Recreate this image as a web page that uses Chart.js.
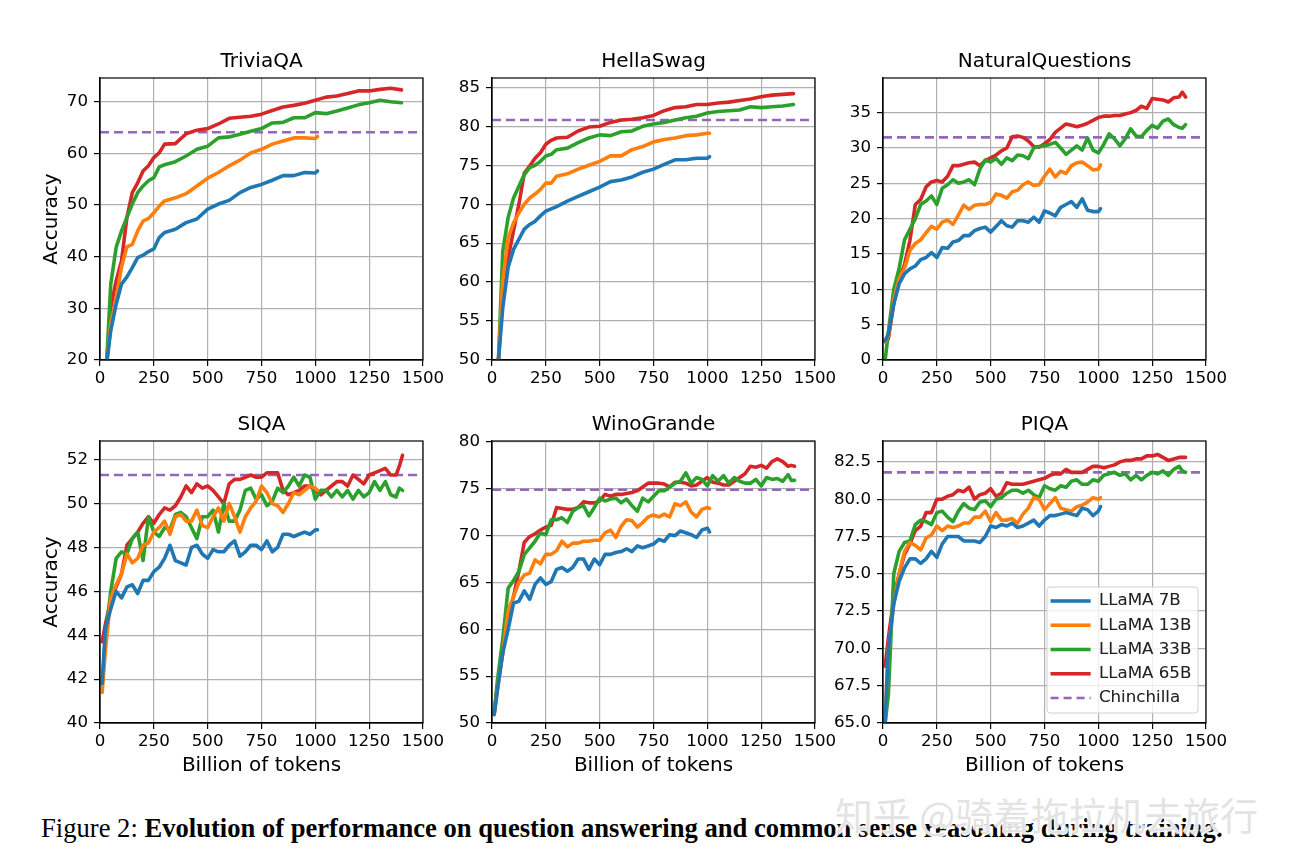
<!DOCTYPE html>
<html><head><meta charset="utf-8">
<script src="https://cdn.jsdelivr.net/npm/chart.js@4/dist/chart.umd.min.js"></script>
<style>
html,body{margin:0;padding:0;background:#fff;width:1289px;height:866px;overflow:hidden;position:relative}
canvas{position:absolute}
#caption{position:absolute;left:41px;top:813px;font-family:"Liberation Serif",serif;font-size:26.6px;line-height:30px;white-space:nowrap;color:#000}
#mark{position:absolute;left:835px;top:790px;font-family:"Noto Sans CJK SC",sans-serif;font-size:37.9px;line-height:48px;white-space:nowrap;color:rgba(200,200,200,.5);text-shadow:0 0 2px #fff,1px 1px 1px #fff,-1px -1px 1px #fff}
</style></head><body>
<div id="caption">Figure 2: <b>Evolution of performance on question answering and common sense reasoning during training.</b></div>
<div id="mark">知乎 @骑着拖拉机去旅行</div>
<script>
// ---- x grids (billion of tokens) ----
const smoothShort=[30,50,75,100,125,150,175,200,225,250,275,300,350,400,450,500,550,600,650,700,750,800,850,900,950,1000,1010];
const smoothLong=[30,50,75,100,125,150,175,200,225,250,275,300,350,400,450,500,550,600,650,700,750,800,850,900,950,1000,1050,1100,1150,1200,1250,1300,1350,1400];
const noisyShort=[10,25,50,75,100,125,150,175,200,225,250,275,300,325,350,375,400,425,450,475,500,525,550,575,600,625,650,675,700,725,750,775,800,825,850,875,900,925,950,975,1000,1010];
const noisyLong=[10,25,50,75,100,125,150,175,200,225,250,275,300,325,350,375,400,425,450,475,500,525,550,575,600,625,650,675,700,725,750,775,800,825,850,875,900,925,950,975,1000,1025,1050,1075,1100,1125,1150,1175,1200,1225,1250,1275,1300,1325,1350,1375,1390,1405];
const chinchillaX=[0,1480];

// ---- TriviaQA ----
const triviaQA7=[19,25.7,30.8,34.7,36.1,37.9,39.8,40.3,41,41.5,43.7,44.7,45.3,46.6,47.3,49.2,50.2,50.9,52.4,53.4,54,54.8,55.7,55.7,56.3,56.2,56.6];
const triviaQA13=[19,27,32,38,41.9,42.4,45,46.9,47.4,48.5,49.8,50.8,51.4,52.2,53.7,55.2,56.3,57.6,58.7,60.1,60.8,61.8,62.4,63,63,62.9,63.3];
const triviaQA33=[19,34.7,41.8,45,47.6,50.2,52.4,53.7,54.7,55.3,57.4,57.8,58.4,59.5,60.8,61.4,63,63.2,63.7,64.3,64.8,65.9,66,66.9,66.9,67.9,67.7,68.2,68.8,69.4,69.8,70.3,70,69.8];
const triviaQA65=[19,30.2,35.3,39.2,47.6,52.4,54.3,56.6,57.6,59.2,60.1,61.8,61.9,63.8,64.5,64.8,65.7,66.8,67,67.2,67.6,68.3,69,69.3,69.7,70.3,70.9,71.1,71.6,72.1,72.1,72.4,72.6,72.3];
const triviaQAChin=64.1;
// ---- HellaSwag ----
const hella7=[50,56.7,61.9,64.2,65.5,66.8,67.4,67.8,68.5,69.1,69.4,69.7,70.4,71,71.6,72.2,72.9,73.1,73.5,74.1,74.5,75.1,75.7,75.7,75.9,75.9,76.1];
const hella13=[50,60.2,65.7,67.6,68.9,70,70.8,71.3,71.9,72.7,72.7,73.6,73.9,74.5,75,75.5,76.2,76.2,77,77.4,78,78.3,78.5,78.8,78.9,79.1,79.1];
const hella33=[50,64,68.3,70.8,72.3,73.8,74.7,75,75.5,76.2,76.4,77,77.2,77.9,78.5,78.9,78.8,79.3,79.4,80,80.3,80.5,80.8,81.1,81.3,81.7,81.9,82,82.1,82.5,82.4,82.5,82.6,82.8];
const hella65=[50,58.5,63.1,66.6,70,74,74.9,75.9,76.6,77.7,78.2,78.5,78.6,79.4,79.9,80,80.5,80.8,80.9,81.1,81.4,82,82.4,82.5,82.8,82.8,83,83.1,83.3,83.5,83.8,84,84.1,84.2];
const hellaChin=80.8;
// ---- NaturalQuestions ----
const nq7=[2.7,3.7,7.9,10.8,12.2,12.9,13.3,14.2,14.5,15.2,14.5,15.9,15.8,16.7,16.9,17.6,17.6,18.3,18.6,18.8,18.1,18.9,19.7,19,18.8,19.7,19.7,19.5,20.2,19.5,21.1,20.8,20.4,21.6,22,22.4,21.6,22.8,21.2,21,21,21.4];
const nq13=[2.5,3.5,8.5,11.5,13,15.5,16.5,17,18,18.9,18.5,19.5,19.8,19.2,20.5,21.9,21.3,21.9,22,22,22.3,23.5,23.3,22.9,23.8,24,24.8,25.2,24.7,24.8,26,27,25.9,26.7,26.4,27.5,27.9,28,27.5,26.9,27,27.6];
const nq33=[0,4,10,13,17,18.5,20,22,22.5,23.2,22,24.3,24.8,25.5,25,25.2,25.5,24.8,27,28.3,28,28.5,27.7,28.6,28.2,29,28.9,28.5,30,30.2,30.3,30.5,30.8,30,29.1,29.7,30.3,29.7,31.4,29.7,29.3,30.5,32,31.3,30.3,31.3,32.7,31.7,31.6,32.5,33.2,32.8,33.8,34.1,33.3,32.9,32.8,33.3];
const nq65=[2.8,3,8,11.5,13.5,16.9,22,22.7,24.5,25.2,25.4,25.2,26,27.5,27.5,27.7,27.9,28,27.5,28.2,28.6,29,29.6,30,31.6,31.7,31.5,31,30.2,30.1,30.6,31.2,32.2,32.8,33.4,33.2,33,33.2,33.5,33.9,34.3,34.5,34.5,34.6,34.6,34.8,35,35.3,35.9,35.6,37,36.9,36.8,36.5,37.1,37.2,37.9,37.2];
const nqChin=31.5;
// ---- SIQA ----
const siqa7=[41.8,44.3,45.2,46,45.7,46.2,46.3,45.9,46.5,46.5,46.9,47.1,47.5,48.1,47.4,47.3,47.2,48,48.1,47.7,47.5,47.9,47.8,47.8,48.1,48.3,47.6,47.8,48.1,48.1,47.9,48.3,47.8,48,48.6,48.6,48.5,48.6,48.7,48.6,48.8,48.8];
const siqa13=[41.4,43.3,45.7,46.3,46.8,47.7,47.3,47.5,48.1,48.2,48.7,48.9,49.2,48.6,49.4,49.5,49.2,49.2,49.7,49,48.9,49.4,49.8,49.2,50,49.4,48.7,49.4,49.8,50.1,50.8,50.5,50,49.9,49.6,50,50.5,50.4,50.6,50.8,50.7,50.6];
const siqa33=[41.7,43.9,46,47.5,47.8,47.7,48.4,48.7,47.4,49.4,48.7,48.5,48.9,48.8,49.5,49.6,49.4,48.9,48.4,49.4,49.4,49.7,48.7,50,49.2,49.2,49.7,50.6,50.7,50.2,50.4,49.9,50.1,50.7,50.5,50.8,51.2,50.8,51.3,51.2,50.2,50.6,50.6,50.3,50.6,50.3,50.6,50.2,50.6,50.3,50.5,51,50.6,51,50.4,50.3,50.7,50.6];
const siqa65=[43.7,44.5,45.6,46.2,46.8,48.1,48.4,48.7,49.1,49.4,49.1,49.5,49.8,49.7,49.9,50.3,50.8,50.5,50.9,50.7,50.8,50.6,50.3,50,50.9,51.1,51.1,51.2,51.3,51.2,51.2,51.4,51.4,51.4,50.6,50.4,50.5,50.6,50.8,50.8,50.6,50.4,50.6,50.8,51,51,50.8,51.3,51.1,50.9,51.3,51.4,51.5,51.6,51.3,51.3,51.7,52.2];
const siqaChin=51.3;
// ---- WinoGrande ----
const wino7=[50.9,53.5,57.5,60,62.8,63,64.1,63.2,64.8,65.5,64.8,65.1,66.4,66.6,66.2,66.6,67.5,67.5,66.4,67.5,66.9,68,68,68.2,68.3,68.6,68.3,68.9,68.7,68.9,69.1,69.6,69.4,70.1,70,70.5,70.3,70.1,69.8,70.6,70.8,70.4];
const wino13=[50.9,53.5,57.5,62,63.5,65,65.8,66,67.4,67,68,68,68.4,69.4,68.8,69.2,69.2,69.4,69.4,69.5,69.5,70.3,70.6,69.8,71,71.7,71.6,70.9,71.4,72,72.2,72,72.3,72,73.4,73.2,73.6,72.5,72,72.8,73,72.9];
const wino33=[51,54.5,59,64.4,65.2,66.2,68,68.7,69.4,70.3,70.1,71.7,71.7,71.9,71.4,72.6,73,73.2,72.1,73,74,73.7,73.9,74,73.5,73.9,73.2,72.6,74,73.6,74.2,74.8,74.8,75.2,75.6,75.8,76.7,75.6,76.2,76,75.3,76.4,75.8,76.4,75.6,76.2,75.8,75.6,75.6,76,75.3,76.2,76,76.1,75.8,76.5,75.9,75.9];
const wino65=[51,54,57.5,61.5,63.5,66.2,69.3,69.9,70.2,70.6,70.9,71.1,73,72.9,72.8,72.8,73,73.6,73.5,73.5,73.7,74.4,74.2,74.4,74.4,74.5,74.6,74.8,75.2,75.6,75.6,75.6,75.5,75.2,75.7,75.7,75.6,75.3,75.4,75.8,76.2,75.7,75.6,75.4,75.4,75.8,76.2,76.6,77.4,77.3,77.5,77.2,77.9,78.2,77.9,77.4,77.5,77.4];
const winoChin=74.9;
// ---- PIQA ----
const piqa7=[65,70,73,74.5,75.4,76,76,75.7,76,76.5,76.1,77,77.5,77.5,77.5,77.2,77.2,77.2,77.1,77.5,78.2,78.1,78.3,78.2,78.4,78.1,78.2,78.4,78.6,78.2,78.6,78.9,78.9,79,79.1,79,78.9,79.4,79.3,78.9,79.2,79.5];
const piqa13=[65.5,70,73,75,76.5,77.1,76.9,76.6,77.4,77.6,78.2,77.9,78.2,78.1,78.2,78.4,78.4,78.8,78.8,79.2,78.5,79.1,78.6,78.6,78.7,78.4,79,79.4,80.1,80,79.3,79.7,80.1,79.4,79.3,79.2,79.5,79.6,79.8,80.1,80,80.1];
const piqa33=[65,66.9,75,76.5,77.1,77.2,78.3,78.6,78.5,78.3,79.1,79.2,78.8,78.5,79.2,79.7,79.4,79.3,79.8,79.9,79.5,80,80.1,80.4,80.6,80.6,80.4,80.6,80.3,80.1,80.9,80.7,80.6,80.9,80.8,81.2,81.3,81,81,81.3,81.2,81.6,81.7,81.8,81.6,81.7,81.3,81.6,81.3,81.6,81.8,81.7,81.9,81.6,82,82.2,81.9,81.8];
const piqa65=[68.8,70.7,73.4,75,76.3,77,77.9,78.2,79.1,79.1,80,80,80.2,80.3,80.6,80.5,80.8,80,80.3,80.4,80.7,80.2,80.4,81.1,81,81,81,81.1,81.2,81.3,81.4,81.6,81.7,81.7,82,81.8,81.8,81.8,82,82.2,82.2,82.1,82.2,82.3,82.5,82.6,82.6,82.7,82.7,82.9,82.9,83,82.8,82.6,82.7,82.8,82.8,82.8];
const piqaChin=81.8;

const seriesNames=['LLaMA 7B','LLaMA 13B','LLaMA 33B','LLaMA 65B','Chinchilla'];
const seriesColors=['#1f77b4','#ff7f0e','#2ca02c','#d62728','#9467bd'];

const panels=[
 {title:'TriviaQA',left:100,top:78,yMin:20,yMax:74.6,step:10,dec:0,yLabel:true,xLabel:false,xs:[smoothShort,smoothLong],vals:[triviaQA7,triviaQA13,triviaQA33,triviaQA65],chin:triviaQAChin},
 {title:'HellaSwag',left:492,top:78,yMin:50,yMax:86.2,step:5,dec:0,yLabel:false,xLabel:false,xs:[smoothShort,smoothLong],vals:[hella7,hella13,hella33,hella65],chin:hellaChin},
 {title:'NaturalQuestions',left:883,top:78,yMin:0,yMax:39.9,step:5,dec:0,yLabel:false,xLabel:false,xs:[noisyShort,noisyLong],vals:[nq7,nq13,nq33,nq65],chin:nqChin},
 {title:'SIQA',left:100,top:441,yMin:40,yMax:52.85,step:2,dec:0,yLabel:true,xLabel:true,xs:[noisyShort,noisyLong],vals:[siqa7,siqa13,siqa33,siqa65],chin:siqaChin},
 {title:'WinoGrande',left:492,top:441,yMin:50,yMax:80.1,step:5,dec:0,yLabel:false,xLabel:true,xs:[noisyShort,noisyLong],vals:[wino7,wino13,wino33,wino65],chin:winoChin},
 {title:'PIQA',left:883,top:441,yMin:65,yMax:83.9,step:2.5,dec:1,yLabel:false,xLabel:true,legend:true,xs:[noisyShort,noisyLong],vals:[piqa7,piqa13,piqa33,piqa65],chin:piqaChin}
];

const FONT='"DejaVu Sans"';
const PW=323,PH=282,ML=60,MT=30,MR=30,MB=55;
const TICK=16.67,LABEL=20;

const framePlugin={id:'frame',
 afterLayout(chart){
  if(chart.options.plugins.legend.display){
   const l=chart.legend;
   const w=l.width,h=l.height;
   l.left=1043-chart.canvas.offsetLeft;
   l.top=585-chart.canvas.offsetTop;
   l.right=l.left+w;l.bottom=l.top+h;
  }
 },
 afterDatasetsDraw(chart){
  const {ctx,chartArea:a}=chart;
  if(chart.options.plugins.legend.display){
   const x=1047-chart.canvas.offsetLeft,y=587-chart.canvas.offsetTop,w=151,h=126,r=3;
   ctx.save();
   ctx.beginPath();ctx.roundRect(x,y,w,h,r);
   ctx.fillStyle='rgba(255,255,255,0.8)';ctx.fill();
   ctx.strokeStyle='#d0d0d0';ctx.lineWidth=1;ctx.stroke();
   ctx.restore();
   chart.legend.draw(a);
  }
  ctx.save();
  ctx.strokeStyle='#000';ctx.lineWidth=1.2;
  ctx.strokeRect(a.left,a.top,a.right-a.left,a.bottom-a.top);
  ctx.restore();
 }
};

panels.forEach(p=>{
 const c=document.createElement('canvas');
 c.width=ML+PW+MR;c.height=MT+PH+MB;
 c.style.left=(p.left-ML)+'px';c.style.top=(p.top-MT)+'px';
 c.style.width=c.width+'px';c.style.height=c.height+'px';
 document.body.appendChild(c);
 const datasets=p.vals.map((v,i)=>{
  const xs=p.xs[i<2?0:1];
  return {label:seriesNames[i],data:v.map((y,k)=>({x:xs[k],y})),borderColor:seriesColors[i],backgroundColor:seriesColors[i],
   borderWidth:3.6,pointRadius:0,pointStyle:'line',tension:0,fill:false,borderJoinStyle:'round',borderCapStyle:'round'};
 });
 datasets.push({label:seriesNames[4],data:chinchillaX.map(x=>({x,y:p.chin})),borderColor:seriesColors[4],backgroundColor:seriesColors[4],
   borderWidth:2.6,borderDash:[9,5],pointRadius:0,pointStyle:'line',tension:0,fill:false});
 new Chart(c.getContext('2d'),{type:'line',data:{datasets},plugins:[framePlugin],options:{
  responsive:false,animation:false,devicePixelRatio:1,events:[],
  layout:{padding:{left:0,top:0,right:MR,bottom:0}},
  plugins:{
   title:{display:true,fullSize:false,text:p.title,color:'#000',font:{family:FONT,size:LABEL,weight:'normal',lineHeight:1.2},padding:{top:1.5,bottom:4.5}},
   tooltip:{enabled:false},
   legend:p.legend?{display:true,position:'chartArea',align:'start',labels:{usePointStyle:true,pointStyleWidth:40,boxHeight:16,color:'#222',padding:7.6,font:{family:FONT,size:TICK},
     generateLabels(chart){
      return Chart.defaults.plugins.legend.labels.generateLabels(chart).map((it,i)=>{
       it.strokeStyle=seriesColors[i];it.fillStyle=seriesColors[i];it.pointStyle='line';
       it.lineWidth=i<4?3.6:2.6;it.lineDash=i<4?[]:[8,5];
       return it;
      });
     }}}:{display:false}
  },
  scales:{
   x:{type:'linear',min:0,max:1500,
    afterFit(s){s.height=MB;},
    title:{display:p.xLabel,text:'Billion of tokens',color:'#000',font:{family:FONT,size:LABEL,lineHeight:1.2},padding:{top:0,bottom:0}},
    grid:{color:'#b0b0b0',lineWidth:1.2,tickColor:'#000',tickLength:6},
    border:{display:true,color:'#000',width:1.2},
    ticks:{stepSize:250,includeBounds:false,autoSkip:false,maxRotation:0,minRotation:0,color:'#000',padding:3,font:{family:FONT,size:TICK},callback:v=>String(v)}
   },
   y:{type:'linear',min:p.yMin,max:p.yMax,
    afterFit(s){s.width=ML;},
    title:{display:p.yLabel,text:'Accuracy',color:'#000',font:{family:FONT,size:LABEL,lineHeight:1.2},padding:{top:0,bottom:0}},
    grid:{color:'#b0b0b0',lineWidth:1.2,tickColor:'#000',tickLength:6},
    border:{display:true,color:'#000',width:1.2},
    ticks:{stepSize:p.step,includeBounds:false,autoSkip:false,color:'#000',padding:6,font:{family:FONT,size:TICK},callback:v=>Number(v).toFixed(p.dec)}
   }
  }
 }});
});
</script>
</body></html>
